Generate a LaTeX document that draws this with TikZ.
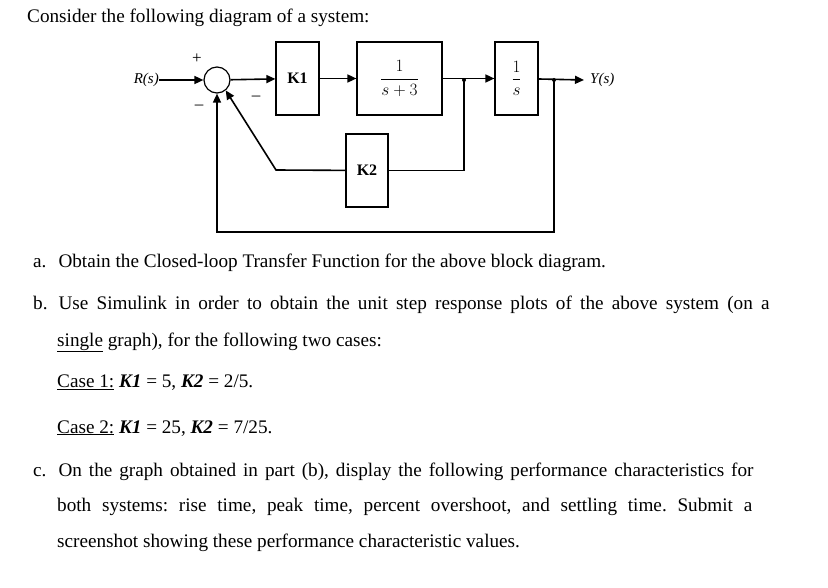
\documentclass[tikz,border=0pt]{standalone}
\usepackage{fontspec}
\setmainfont{Liberation Serif}
\usetikzlibrary{arrows.meta}
\frenchspacing
\tikzset{
  block/.style = {draw, line width=1.2pt, minimum width=43pt, minimum height=73pt, inner sep=0pt, font=\fontsize{16}{18}\selectfont},
  sumnode/.style = {draw, line width=1.2pt, circle, minimum size=26pt, inner sep=0pt},
  sig/.style = {line width=1.6pt, -{Triangle[length=9pt,width=8pt]}},
  line/.style = {anchor=base west, inner sep=0pt, font=\fontsize{19.2}{22}\selectfont},
  sign/.style = {inner sep=0pt, font=\fontsize{17}{18}\selectfont}
}
\begin{document}
\begin{tikzpicture}[x=1pt, y=-1pt]
\useasboundingbox (0,0) rectangle (828,588);

% ------------------------- diagram -------------------------
\node (R) [anchor=east, inner sep=0pt, font=\itshape\fontsize{15}{17}\selectfont] at (159,80) {R(s)};
\node (sum) [sumnode] at (217,80) {};
\node (K1) [block] at (297.5,78.5) {\textbf{K1}};
\node (G) [block, minimum width=85pt] at (399.5,78.5) {$\displaystyle\frac{1}{s+3}$};
\node (I) [block] at (516.5,78.5) {$\displaystyle\frac{1}{s}$};
\node (K2) [block, minimum width=42pt] at (367,170.5) {\textbf{K2}};
\coordinate (b1) at (464,80);
\coordinate (b2) at (554,80);
\coordinate (out) at (584,80);
\node (Y) [anchor=west, inner sep=0pt, font=\itshape\fontsize{15}{17}\selectfont] at (590,80) {Y(s)};

\draw [sig] (R) -- (sum);
\draw [sig] (sum) -- (K1);
\draw [sig] (K1) -- (G);
\draw [sig] (G) -- (I);
\draw [sig] (I) -- (out);
\fill (b1) circle (2pt) (b2) circle (2pt);
\draw [line width=1.6pt] (b1) |- (K2);
\draw [sig] (K2) -- (276,170) -- (sum.-50);
\draw [sig] (b2) |- (217,232) -- (sum);

\node [sign] at (197,59) {+};
\node [sign] at (256,98) {--};
\node [sign] at (199,107) {--};

% ------------------------- text -------------------------
\node (t0) [line] at (27,23) {Consider the following diagram of a system:};
\node (ta) [line] at (33,268) {a.\hspace{12pt}Obtain the Closed-loop Transfer Function for the above block diagram.};
\node (tb) [line] at (33,309) {b.\hspace{11pt}\makebox[711pt][s]{Use Simulink in order to obtain the unit step response plots of the above system (on a}};
\node (tb2) [line] at (57,346) {\underline{single} graph), for the following two cases:};
\node (tc1) [line] at (57,388) {\underline{Case 1:} \textbf{\textit{K1}} = 5, \textbf{\textit{K2}} = 2/5.};
\node (tc2) [line] at (57,433) {\underline{Case 2:} \textbf{\textit{K1}} = 25, \textbf{\textit{K2}} = 7/25.};
\node (tc) [line] at (33,476) {c.\hspace{12pt}\makebox[695pt][s]{On the graph obtained in part (b), display the following performance characteristics for}};
\node (tc3) [line] at (57,511) {\makebox[695pt][s]{both systems: rise time, peak time, percent overshoot, and settling time. Submit a}};
\node (tc4) [line] at (57,547) {screenshot showing these performance characteristic values.};
\end{tikzpicture}
\end{document}
